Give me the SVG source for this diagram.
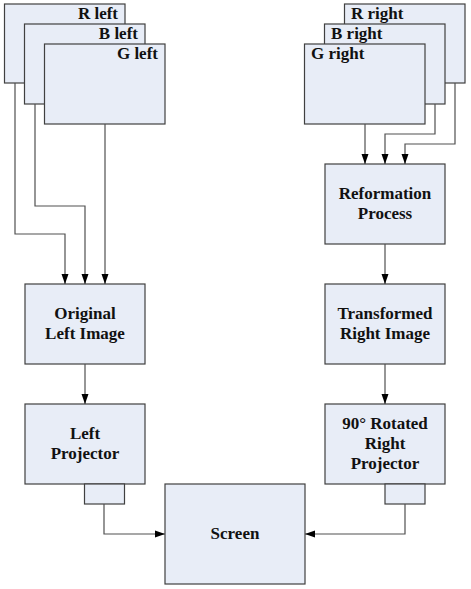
<svg xmlns="http://www.w3.org/2000/svg" width="471" height="589" viewBox="0 0 471 589">
<style>
.box{fill:#e8edf7;stroke:#404040;stroke-width:1.2}
.t{font-family:"Liberation Serif","Times New Roman",serif;font-weight:bold;font-size:17px;fill:#111}
.c{text-anchor:middle}
.e{text-anchor:end}
.ln{fill:none;stroke:#505050;stroke-width:1.2}
</style>
<defs>
<marker id="ah" viewBox="0 0 10 10" refX="10" refY="5" markerWidth="10" markerHeight="10" markerUnits="userSpaceOnUse" orient="auto">
<path d="M0,1.5 L10,5 L0,8.5 Z" fill="#000"/>
</marker>
</defs>
<rect width="471" height="589" fill="#fff"/>
<g id="r-left"><rect class="box" x="4.5" y="4" width="120.5" height="79"/><text class="t e" x="118" y="18.5">R left</text></g>
<g id="b-left"><rect class="box" x="24.5" y="24" width="120.5" height="80"/><text class="t e" x="138" y="38.5">B left</text></g>
<g id="g-left"><rect class="box" x="44.5" y="44" width="120.5" height="80"/><text class="t e" x="158" y="58.5">G left</text></g>
<g id="r-right"><rect class="box" x="344.5" y="4" width="120.5" height="79"/><text class="t" x="351" y="18.5">R right</text></g>
<g id="b-right"><rect class="box" x="324.5" y="24" width="120.5" height="80"/><text class="t" x="331" y="38.5">B right</text></g>
<g id="g-right"><rect class="box" x="304.5" y="44" width="120.5" height="80"/><text class="t" x="311" y="58.5">G right</text></g>
<g id="reformation"><rect class="box" x="325" y="164" width="120" height="80"/><text class="t c" x="385" y="199">Reformation</text><text class="t c" x="385" y="219">Process</text></g>
<g id="original-left"><rect class="box" x="25" y="284" width="120" height="80"/><text class="t c" x="85" y="319">Original</text><text class="t c" x="85" y="339">Left Image</text></g>
<g id="transformed-right"><rect class="box" x="325" y="284" width="120" height="80"/><text class="t c" x="385" y="319">Transformed</text><text class="t c" x="385" y="339">Right Image</text></g>
<g id="left-projector"><rect class="box" x="25" y="404" width="120" height="80"/><text class="t c" x="85" y="439">Left</text><text class="t c" x="85" y="459">Projector</text><rect class="box" x="84.5" y="484" width="40" height="20"/></g>
<g id="right-projector"><rect class="box" x="325" y="404" width="120" height="80"/><text class="t c" x="385" y="429">90° Rotated</text><text class="t c" x="385" y="449">Right</text><text class="t c" x="385" y="469">Projector</text><rect class="box" x="385" y="484" width="40" height="20"/></g>
<g id="screen"><rect class="box" x="165" y="484" width="140" height="100"/><text class="t c" x="235" y="539">Screen</text></g>
<g id="connectors">
<path class="ln" d="M15,83 V234 H65 V284" marker-end="url(#ah)"/>
<path class="ln" d="M35,104 V206 H85 V284" marker-end="url(#ah)"/>
<path class="ln" d="M105,124 V284" marker-end="url(#ah)"/>
<path class="ln" d="M365,124 V164" marker-end="url(#ah)"/>
<path class="ln" d="M435,104 V134 H385 V164" marker-end="url(#ah)"/>
<path class="ln" d="M455,83 V144 H405 V164" marker-end="url(#ah)"/>
<path class="ln" d="M385,244 V284" marker-end="url(#ah)"/>
<path class="ln" d="M85,364 V404" marker-end="url(#ah)"/>
<path class="ln" d="M385,364 V404" marker-end="url(#ah)"/>
<path class="ln" d="M104,504 V534 H165" marker-end="url(#ah)"/>
<path class="ln" d="M405,504 V534 H305" marker-end="url(#ah)"/>
</g>
</svg>
